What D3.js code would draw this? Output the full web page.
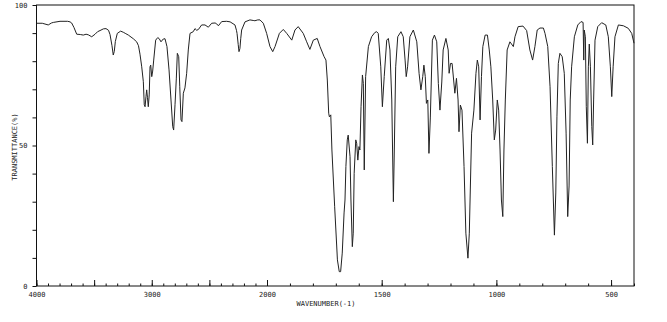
<!DOCTYPE html>
<html>
<head>
<meta charset="utf-8">
<script src="https://cdn.jsdelivr.net/npm/d3@7"></script>
<style>
  body { margin: 0; background: #fff; }
  svg text { font-family: "DejaVu Sans Mono", monospace; font-size: 7px; fill: #222; }
</style>
</head>
<body>
<div id="chart"></div>
<script>
// IR spectrum, transmittance (%) against wavenumber (cm-1)
var wavenumbers = [4000,3950,3898,3870,3854,3796,3730,3709,3695,3675,3666,3651,3620,3594,3570,3551,3521,3492,3470,3449,
  3420,3397,3375,3362,3345,3334,3325,3316,3299,3270,3247,3225,3203,3180,3160,3131,3115,3102,3087,3073,
  3065,3058,3050,3044,3037,3030,3022,3015,3009,3000,2992,2983,2966,2948,2935,2920,2900,2885,2868,2850,
  2833,2818,2810,2798,2787,2778,2766,2757,2746,2738,2726,2712,2697,2683,2668,2640,2625,2610,2595,2567,
  2538,2520,2509,2480,2450,2437,2422,2393,2350,2320,2278,2265,2260,2250,2243,2235,2228,2220,2191,2148,
  2120,2105,2080,2061,2032,2003,1987,1975,1965,1946,1929,1914,1892,1878,1864,1842,1827,1813,1798,1781,
  1769,1751,1743,1737,1731,1728,1722,1717,1705,1693,1685,1679,1672,1664,1660,1656,1650,1646,1638,1634,
  1628,1624,1620,1613,1609,1604,1599,1595,1590,1584,1580,1576,1570,1558,1544,1530,1522,1515,1504,1497,
  1489,1478,1471,1464,1456,1449,1445,1439,1430,1416,1406,1398,1393,1387,1377,1362,1347,1337,1329,1321,
  1316,1310,1305,1299,1294,1288,1279,1270,1260,1253,1246,1238,1232,1220,1210,1206,1200,1193,1181,1174,
  1167,1163,1157,1150,1141,1133,1124,1118,1108,1098,1089,1083,1077,1071,1065,1059,1049,1039,1031,1024,
  1016,1009,1003,996,990,984,978,972,967,961,953,941,926,919,905,884,868,854,842,832,
  822,810,795,788,776,766,756,747,741,736,730,723,713,704,696,689,683,678,672,660,
  645,631,622,619,617,612,608,603,599,595,590,584,580,576,570,558,541,523,512,503,
  497,491,483,468,446,425,410,400];
var transmittance = [93.5,93.5,92.9,93.6,93.8,94.2,94.2,94.0,93.6,92.0,91.1,89.6,89.5,89.3,89.6,89.4,88.7,89.6,90.5,90.9,
  91.5,91.6,91.0,89.5,85.5,82.2,83.5,87.0,89.9,90.7,90.3,89.8,89.3,88.6,88.0,86.9,85.5,82.5,78.0,72.7,
  64.5,63.8,67.4,69.8,67.0,63.8,68.0,78.0,78.6,74.5,76.5,80.4,87.5,88.4,88.0,86.9,87.9,88.0,85.2,76.9,
  66.2,56.7,55.5,64.5,73.7,82.8,81.6,70.9,59.1,58.5,68.6,70.5,75.7,84.0,89.9,90.5,91.6,91.0,91.3,92.9,
  92.9,92.4,92.1,93.5,93.6,93.3,92.6,94.1,94.2,94.0,92.9,91.0,89.9,86.0,83.4,84.5,88.0,91.1,94.0,94.7,
  94.5,94.4,94.7,94.7,93.5,89.9,85.2,83.4,85.2,89.9,91.3,89.9,87.5,91.1,92.3,89.9,86.9,84.2,87.5,88.1,
  85.2,81.6,80.4,73.3,61.5,60.2,60.9,48.4,28.2,9.3,5.1,5.1,11.7,26.0,30.6,42.5,52.0,53.7,46.0,30.6,
  14.0,18.8,40.1,52.0,50.8,44.8,49.6,48.4,63.8,75.1,72.1,41.3,74.5,85.2,88.7,90.2,90.5,89.9,78.0,63.8,
  74.5,87.5,88.1,84.0,66.2,30.0,48.4,78.0,88.7,90.5,88.7,80.4,74.5,78.0,88.7,91.1,86.9,75.7,69.8,74.5,
  78.6,74.5,65.0,66.2,47.2,59.8,87.5,89.3,86.9,72.1,62.6,72.6,84.0,88.1,84.0,75.7,79.2,79.2,68.6,73.9,
  66.2,54.9,64.4,62.6,42.5,18.8,9.9,18.8,54.4,62.6,75.7,80.4,78.0,59.1,74.5,85.2,89.3,89.3,84.0,78.0,
  66.2,52.0,55.5,66.2,62.6,48.4,30.6,24.7,48.4,66.2,84.0,86.9,85.2,88.7,92.3,92.5,90.9,84.0,80.4,85.2,
  91.1,91.8,91.8,89.9,85.2,70.9,42.5,18.1,33.1,60.2,79.2,82.8,81.6,75.7,54.4,24.7,35.6,66.2,78.0,88.7,
  92.9,94.1,93.8,80.4,91.1,88.7,63.8,50.8,78.0,86.1,78.0,56.7,50.2,66.2,87.5,92.3,93.7,92.9,88.7,78.0,
  67.4,78.0,88.7,92.9,92.6,91.7,89.9,86.4];

var xLabelTicks = [4000, 3000, 2000, 1500, 1000, 500];
var yTicks = [0, 10, 20, 30, 40, 50, 60, 70, 80, 90, 100];
var yLabelTicks = [0, 50, 100];

var width = 667, height = 322;
var plotLeft = 36.5, plotRight = 634, plotTop = 5, plotBottom = 286;

var svg = d3.select("#chart").append("svg")
    .attr("width", width)
    .attr("height", height);

svg.append("rect").attr("width", width).attr("height", height).attr("fill", "#fff");

// the axis is split: 4000-2000 at half the scale of 2000-400
var x = d3.scaleLinear().domain([4000, 2000, 400]).range([plotLeft, 267, plotRight]);
var y = d3.scaleLinear().domain([0, 100]).range([plotBottom, plotTop]);

var minorX = d3.range(4000, 399, -100);
var majorX = d3.range(4000, 399, -500);

// frame
svg.append("rect")
    .attr("x", plotLeft).attr("y", plotTop)
    .attr("width", plotRight - plotLeft).attr("height", plotBottom - plotTop)
    .attr("fill", "none").attr("stroke", "#111").attr("stroke-width", 1);

// bottom ticks, pointing inward
var xMinor = svg.append("g").attr("transform", "translate(0," + plotBottom + ")")
    .call(d3.axisBottom(x).tickValues(minorX).tickSize(-2.5).tickFormat(""));
var xMajor = svg.append("g").attr("transform", "translate(0," + plotBottom + ")")
    .call(d3.axisBottom(x).tickValues(majorX).tickSize(-6).tickFormat(""));
var xLab = svg.append("g").attr("transform", "translate(0," + plotBottom + ")")
    .call(d3.axisBottom(x).tickValues(xLabelTicks).tickSize(0).tickPadding(6).tickFormat(d3.format("d")));

var yAxis = svg.append("g").attr("transform", "translate(" + plotLeft + ",0)")
    .call(d3.axisLeft(y).tickValues(yTicks).tickSize(4).tickPadding(5)
      .tickFormat(function(d) { return yLabelTicks.indexOf(d) >= 0 ? d : ""; }));

[xMinor, xMajor, xLab, yAxis].forEach(function(g) {
    g.select(".domain").remove();
    g.selectAll("line").attr("stroke", "#111");
    g.selectAll("text").attr("font-family", null).attr("font-size", null);
});

// spectrum
var pts = wavenumbers.map(function(w, i) { return [w, transmittance[i]]; });
var line = d3.line()
    .x(function(d) { return x(d[0]); })
    .y(function(d) { return y(d[1]); });

svg.append("path")
    .datum(pts)
    .attr("d", line)
    .attr("fill", "none")
    .attr("stroke", "#222")
    .attr("stroke-width", 1);

// axis titles
svg.append("text")
    .attr("x", 326).attr("y", 306)
    .attr("text-anchor", "middle")
    .text("WAVENUMBER(-1)");

svg.append("text")
    .attr("transform", "translate(17,147) rotate(-90)")
    .attr("text-anchor", "middle")
    .text("TRANSMITTANCE(%)");
</script>
</body>
</html>
